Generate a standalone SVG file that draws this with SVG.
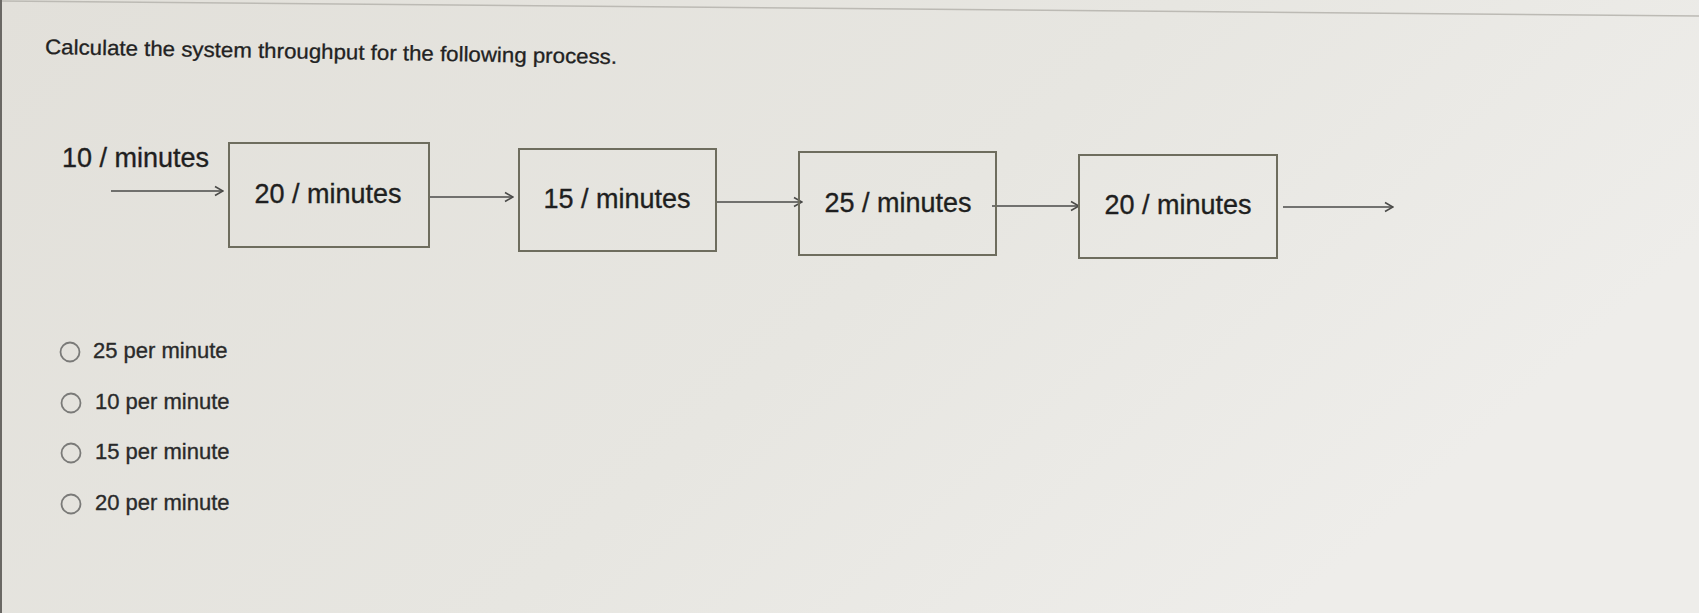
<svg xmlns="http://www.w3.org/2000/svg" width="1699" height="613" viewBox="0 0 1699 613">
  <style>
    .box { fill: none; stroke: #6e6d5e; stroke-width: 2; }
    .lbl { font-family: "Liberation Sans", Arial, sans-serif; font-size: 27px; fill: #1f1f1f; stroke: #1f1f1f; stroke-width: 0.35; text-anchor: middle; }
    .conn { stroke: #4a4a48; stroke-width: 1.6; fill: none; }
    .opt { font-family: "Liberation Sans", Arial, sans-serif; font-size: 22px; fill: #2a2a2a; stroke: #2a2a2a; stroke-width: 0.35; }
    .radio { fill: none; stroke: #7a7a78; stroke-width: 1.8; }
  </style>
  <defs>
    <linearGradient id="bg" x1="0" y1="0" x2="1" y2="0.4">
      <stop offset="0" stop-color="#e2e0da"/>
      <stop offset="0.6" stop-color="#e7e6e1"/>
      <stop offset="1" stop-color="#eeedea"/>
    </linearGradient>
    <marker id="arr" viewBox="0 0 12 12" refX="11" refY="6" markerWidth="12" markerHeight="12" markerUnits="userSpaceOnUse" orient="auto">
      <path d="M3,1.5 L11,6 L3,10.5" fill="none" stroke="#4a4a48" stroke-width="1.6"/>
    </marker>
  </defs>
  <rect x="0" y="0" width="1699" height="613" fill="url(#bg)"/>
  <line x1="0" y1="1" x2="1699" y2="16" stroke="#bcbab4" stroke-width="1.5"/>
  <line x1="1" y1="0" x2="1" y2="613" stroke="#6a6864" stroke-width="2"/>

  <text x="45" y="54" transform="rotate(1 45 54)" font-family="'Liberation Sans', Arial, sans-serif" font-size="21" fill="#222" stroke="#222" stroke-width="0.3" textLength="572" lengthAdjust="spacingAndGlyphs">Calculate the system throughput for the following process.</text>

  <g id="input">
    <text x="62" y="167" font-family="'Liberation Sans', Arial, sans-serif" font-size="27" fill="#1f1f1f" stroke="#1f1f1f" stroke-width="0.35">10 / minutes</text>
  </g>

  <g id="connectors">
    <line class="conn" x1="111" y1="191" x2="223" y2="191" marker-end="url(#arr)"/>
    <line class="conn" x1="429" y1="197" x2="513" y2="197" marker-end="url(#arr)"/>
    <line class="conn" x1="717" y1="202" x2="802" y2="202" marker-end="url(#arr)"/>
    <line class="conn" x1="992" y1="206" x2="1079" y2="206" marker-end="url(#arr)"/>
    <line class="conn" x1="1283" y1="207" x2="1393" y2="207" marker-end="url(#arr)"/>
  </g>

  <g id="node1">
    <rect class="box" x="229" y="143" width="200" height="104"/>
    <text class="lbl" x="328" y="203">20 / minutes</text>
  </g>
  <g id="node2">
    <rect class="box" x="519" y="149" width="197" height="102"/>
    <text class="lbl" x="617" y="208">15 / minutes</text>
  </g>
  <g id="node3">
    <rect class="box" x="799" y="152" width="197" height="103"/>
    <text class="lbl" x="898" y="212">25 / minutes</text>
  </g>
  <g id="node4">
    <rect class="box" x="1079" y="155" width="198" height="103"/>
    <text class="lbl" x="1178" y="214">20 / minutes</text>
  </g>

  <g id="options">
    <circle class="radio" cx="70" cy="352" r="9.5"/>
    <text class="opt" x="93" y="358">25 per minute</text>
    <circle class="radio" cx="71" cy="403" r="9.5"/>
    <text class="opt" x="95" y="409">10 per minute</text>
    <circle class="radio" cx="71" cy="453" r="9.5"/>
    <text class="opt" x="95" y="459">15 per minute</text>
    <circle class="radio" cx="71" cy="504" r="9.5"/>
    <text class="opt" x="95" y="510">20 per minute</text>
  </g>
</svg>
